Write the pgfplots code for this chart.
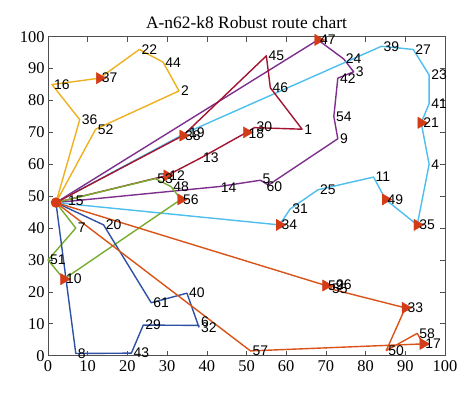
\documentclass[border=0pt]{standalone}
\usepackage{fontspec}
\setmainfont{Liberation Serif}
\newfontfamily\lab{Liberation Sans}
\usepackage{pgfplots}
\usepackage{pgfplotstable}
\pgfplotsset{compat=1.18}
\usetikzlibrary{calc}
\definecolor{cY}{HTML}{EDB120}
\definecolor{cP}{HTML}{7E2F8E}
\definecolor{cD}{HTML}{A2142F}
\definecolor{cG}{HTML}{77AC30}
\definecolor{cC}{HTML}{4DBEEE}
\definecolor{cB}{RGB}{46,80,165}
\definecolor{cR}{HTML}{D95319}
\definecolor{cA}{RGB}{212,60,24}
\definecolor{frame}{RGB}{80,80,80}

\pgfplotstableread{
x y
2 48
8 74
1 85
13 87
23 96
29 92
33 83
12 71
2 48
}\routeY
\pgfplotstableread{
x y
2 48
68 99
74.5 93
77 89
73 87
72 75
73 68
55.5 53.5
53.5 55
43 53
2 48
}\routeP
\pgfplotstableread{
x y
2 48
30 56.5
38.5 62
50 70
52 71.5
64 71
56 84
55 94
34 69
2 48
}\routeD
\pgfplotstableread{
x y
2 48
7 40
0 30
4 24
33.5 49
31 53
27 55.5
2 48
}\routeG
\pgfplotstableread{
x y
2 48
58.3 41
61 46
68 52
82 56
85 49
93 41
96 60
94 73
96 79
96 88
92 96
84 97
35 70
2 48
}\routeC
\pgfplotstableread{
x y
2 48
7 0.7
21 0.8
24 9.6
38 9.5
38 9
35 19.6
26 16.6
14 41
2 48
}\routeB
\pgfplotstableread{
x y
2 48
70 22
72 22.2
71 21
90 15
85.2 1.6
93 7
94.5 3.7
51 1.5
2 48
}\routeR
\pgfplotstableread{
x y
13 87
68 99
34 69
50 70
30 56.5
33.5 49
4 24
94 73
85 49
93 41
58.3 41
70 22
90 15
94.5 3.7
}\arrows
\pgfplotstableread{
x y lab
64 71 1
33 83 2
77 89 3
96 60 4
53.5 55.5 5
38 10.6 6
7 40 7
7 0.7 8
73 68 9
4 24 10
82 56 11
30 56.5 12
38.5 62 13
43 52.8 14
4.5 48.5 15
1 85 16
94.5 3.7 17
50 69.7 18
35 70 19
14 41 20
94 73 21
23 96 22
96 88 23
74.5 93 24
68 52 25
72 22.2 26
92 96 27
24 9.6 29
52 71.8 30
61 46 31
38 8.7 32
90 15 33
58.3 41 34
93 41 35
8 74 36
13 87 37
34 69 38
84 97 39
35 19.6 40
96 79 41
73 87 42
21 0.8 43
29 92 44
55 94 45
56 84 46
68 99 47
31 53 48
85 49 49
85.2 1.6 50
0 30 51
12 71 52
27 55.5 53
72 75 54
71 21 55
33.5 49 56
51 1.5 57
93 7 58
70 22 59
54.5 53 60
26 16.6 61
}\labels

\begin{document}
\begin{tikzpicture}
\begin{axis}[
  scale only axis, width=397bp, height=319bp,
  xmin=0, xmax=100, ymin=0, ymax=100,
  xtick={0,10,...,100}, ytick={0,10,...,100},
  tick align=inside,
  axis line style={draw=frame, line width=0.7bp},
  major tick length=5bp,
  tick style={draw=frame, line width=0.6bp},
  tick label style={font=\fontsize{16.5}{16.5}\selectfont, text=black},
  xticklabel style={yshift=-1bp},
  /pgf/number format/assume math mode=true,
  title={A-n62-k8 Robust route chart},
  title style={font=\fontsize{17.5}{17.5}\selectfont, inner sep=2bp},
  clip=false,
  every axis plot/.append style={line width=1.4bp, line join=round},
]
\addplot[cY, mark=none] table {\routeY};
\addplot[cP, mark=none] table {\routeP};
\addplot[cC, mark=none] table {\routeC};
\addplot[cD, mark=none] table {\routeD};
\addplot[cG, mark=none] table {\routeG};
\addplot[cB, mark=none] table {\routeB};
\addplot[cR, mark=none] table {\routeR};
\addplot[only marks, mark=triangle*, mark size=6.5bp,
  mark options={rotate=-90, fill=cA, draw=cA, line width=0.4bp}] table {\arrows};
\addplot[only marks, mark=*, mark size=4.5bp, mark options={fill=cA, draw=cA}]
  coordinates {(2,48)};
\addplot[draw=none, mark=none, nodes near coords, point meta=explicit symbolic,
  nodes near coords style={anchor=west, inner sep=0pt, xshift=1.5bp,
  font=\lab\fontsize{14}{14}\selectfont, text=black}]
  table[meta=lab] {\labels};
\end{axis}
\pgfresetboundingbox
\path[use as bounding box] ($(current axis.south west)+(-48bp,-39.3bp)$) rectangle ($(current axis.north east)+(29bp,36.7bp)$);
\end{tikzpicture}
\end{document}
